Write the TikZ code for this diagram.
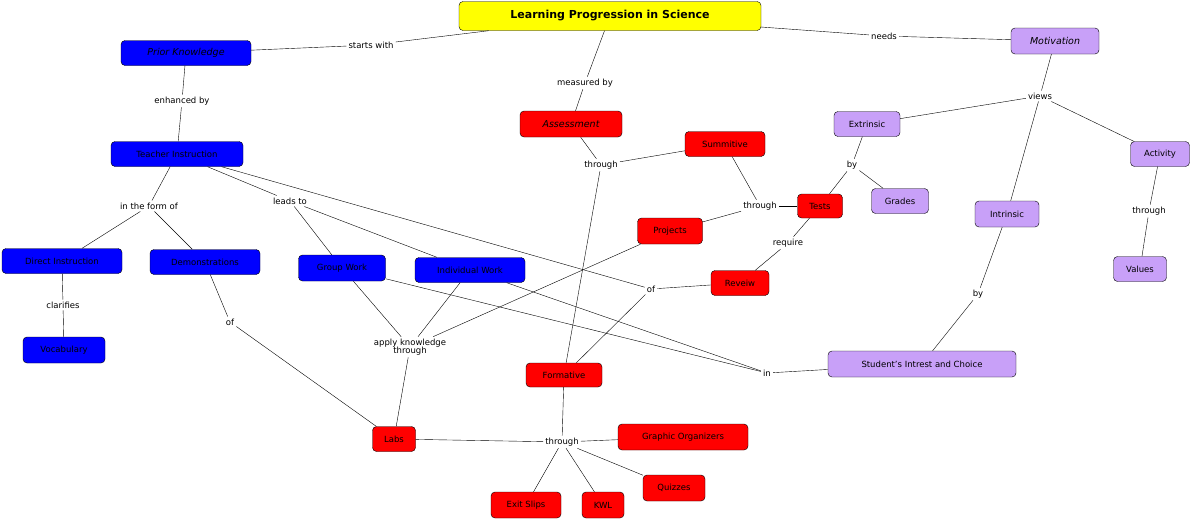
\documentclass[tikz,border=0pt]{standalone}
\usepackage{fontspec}
\setmainfont{DejaVu Sans}
\definecolor{cblue}{HTML}{0000FF}
\definecolor{cred}{HTML}{FF0000}
\definecolor{cpur}{HTML}{C8A0F8}
\definecolor{cyel}{HTML}{FFFF00}
\begin{document}
\begin{tikzpicture}[x=1pt,y=-1pt,
  box/.style={draw=black,rounded corners=4pt,font=\fontsize{8.5}{10}\selectfont,inner sep=2pt,minimum height=25pt},
  B/.style={box,fill=cblue},R/.style={box,fill=cred},P/.style={box,fill=cpur},
  lab/.style={font=\fontsize{8.5}{10}\selectfont,inner sep=2pt,align=center},
  every path/.style={}]
\useasboundingbox (0,0) rectangle (1192,522);
\node[box,fill=cyel,font=\bfseries\fontsize{11}{13}\selectfont,minimum width=302pt,minimum height=29pt] (t) at (610,16) {Learning Progression in Science};
\node[B,minimum width=130pt,font=\itshape\fontsize{9.5}{11}\selectfont] (pk) at (186,53) {Prior Knowledge};
\node[P,minimum width=88pt,minimum height=26pt,font=\itshape\fontsize{9.5}{11}\selectfont] (mo) at (1055,41) {Motivation};
\node[R,minimum width=102pt,minimum height=26pt,font=\itshape\fontsize{9.5}{11}\selectfont] (as) at (571,124) {Assessment};
\node[B,minimum width=132pt] (ti) at (177,154) {Teacher Instruction};
\node[P,minimum width=66pt] (ex) at (867,124) {Extrinsic};
\node[P,minimum width=59pt] (ac) at (1160,154) {Activity};
\node[R,minimum width=80pt] (su) at (725,144) {Summitive};
\node[R,minimum width=45pt,minimum height=24pt] (te) at (820,206) {Tests};
\node[P,minimum width=57pt] (gr) at (900,201) {Grades};
\node[P,minimum width=64pt,minimum height=26pt] (in) at (1007,214) {Intrinsic};
\node[R,minimum width=65pt,minimum height=26pt] (pr) at (670,231) {Projects};
\node[B,minimum width=120pt] (di) at (62,261) {Direct Instruction};
\node[B,minimum width=110pt] (de) at (205,262) {Demonstrations};
\node[B,minimum width=87pt,minimum height=26pt] (gw) at (342,268) {Group Work};
\node[B,minimum width=110pt] (iw) at (470,270) {Individual Work};
\node[P,minimum width=53pt] (va) at (1140,269) {Values};
\node[R,minimum width=58pt] (rv) at (740,283) {Reveiw};
\node[B,minimum width=82pt,minimum height=26pt] (vo) at (64,350) {Vocabulary};
\node[P,minimum width=188pt,minimum height=26pt] (sc) at (922,364) {Student's Intrest and Choice};
\node[R,minimum width=76pt,minimum height=24pt] (fo) at (564,375) {Formative};
\node[R,minimum width=43pt] (la) at (394,439) {Labs};
\node[R,minimum width=130pt,minimum height=26pt] (go) at (683,437) {Graphic Organizers};
\node[R,minimum width=62pt,minimum height=26pt] (qu) at (674,488) {Quizzes};
\node[R,minimum width=70pt,minimum height=26pt] (es) at (526,505) {Exit Slips};
\node[R,minimum width=42pt,minimum height=26pt] (kw) at (603,505) {KWL};
% labels
\node[lab] (l1) at (371,45) {starts with};
\node[lab] (l2) at (884,36) {needs};
\node[lab] (l3) at (585,83) {measured by};
\node[lab] (l4) at (182,101) {enhanced by};
\node[lab] (l5) at (1040,96) {views};
\node[lab] (l6) at (601,165) {through};
\node[lab] (l7) at (852,165) {by};
\node[lab] (l8) at (760,206) {through};
\node[lab] (l9) at (1149,211) {through};
\node[lab] (l10) at (149,206) {in the form of};
\node[lab] (l11) at (290,201) {leads to};
\node[lab] (l12) at (788,243) {require};
\node[lab] (l13) at (651,289) {of};
\node[lab] (l14) at (978,294) {by};
\node[lab] (l15) at (63,305) {clarifies};
\node[lab] (l16) at (230,322) {of};
\node[lab] (l17) at (410,347) {apply knowledge\\[-2pt]through};
\node[lab] (l18) at (767,373) {in};
\node[lab] (l19) at (562,442) {through};
% connectors
\draw (t) -- (l1) -- (pk);
\draw (t) -- (l2) -- (mo);
\draw (t) -- (l3) -- (as);
\draw (pk) -- (l4) -- (ti);
\draw (mo) -- (l5);
\draw (l5) -- (ex); \draw (l5) -- (in); \draw (l5) -- (ac);
\draw (as) -- (l6); \draw (l6) -- (su); \draw (l6) -- (fo);
\draw (ex) -- (l7); \draw (l7) -- (te); \draw (l7) -- (gr);
\draw (su) -- (l8); \draw (l8) -- (te); \draw (l8) -- (pr);
\draw (te) -- (l12) -- (rv);
\draw (ac) -- (l9) -- (va);
\draw (in) -- (l14) -- (sc);
\draw (ti) -- (l10); \draw (l10) -- (di); \draw (l10) -- (de);
\draw (ti) -- (l11); \draw (l11) -- (gw); \draw (l11) -- (iw);
\draw (ti) -- (l13); \draw (l13) -- (rv); \draw (l13) -- (fo);
\draw (di) -- (l15) -- (vo);
\draw (de) -- (l16) -- (la);
\draw (gw) -- (l17); \draw (iw) -- (l17); \draw (l17) -- (la); \draw (l17) -- (pr);
\draw (gw) -- (l18); \draw (iw) -- (l18); \draw (l18) -- (sc);
\draw (fo) -- (l19); \draw (l19) -- (la); \draw (l19) -- (go); \draw (l19) -- (qu); \draw (l19) -- (es); \draw (l19) -- (kw);
\end{tikzpicture}
\end{document}
